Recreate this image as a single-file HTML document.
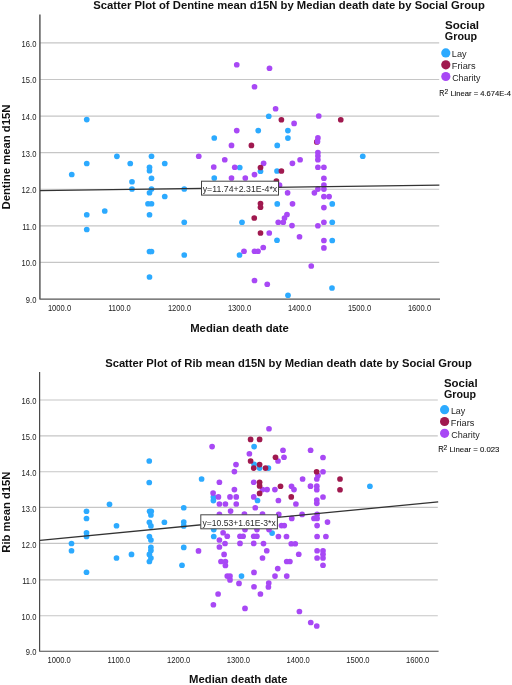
<!DOCTYPE html>
<html><head><meta charset="utf-8"><style>
html,body{margin:0;padding:0;background:#fff;}
svg{display:block;}
text{font-family:"Liberation Sans", Arial, sans-serif;}
.tk{font-size:8.8px;fill:#222;}
.ti{font-weight:bold;fill:#111;}
.lg{fill:#262626;}
.eq{fill:#2a2a2a;}
.r2{fill:#111;stroke:#111;stroke-width:0.1px;}
</style></head><body>
<svg width="512" height="685" viewBox="0 0 512 685">
<rect width="512" height="685" fill="#fff"/>
<line x1="39.9" y1="262.43" x2="439.2" y2="262.43" stroke="#c6c6c6" stroke-width="1.2"/>
<line x1="39.9" y1="225.85" x2="439.2" y2="225.85" stroke="#c6c6c6" stroke-width="1.2"/>
<line x1="39.9" y1="189.26" x2="439.2" y2="189.26" stroke="#c6c6c6" stroke-width="1.2"/>
<line x1="39.9" y1="152.67" x2="439.2" y2="152.67" stroke="#c6c6c6" stroke-width="1.2"/>
<line x1="39.9" y1="116.08" x2="439.2" y2="116.08" stroke="#c6c6c6" stroke-width="1.2"/>
<line x1="39.9" y1="79.50" x2="439.2" y2="79.50" stroke="#c6c6c6" stroke-width="1.2"/>
<line x1="39.9" y1="42.91" x2="439.2" y2="42.91" stroke="#c6c6c6" stroke-width="1.2"/>
<text transform="translate(36.4,302.92) scale(0.865,1)" text-anchor="end" class="tk">9.0</text>
<text transform="translate(36.4,266.33) scale(0.865,1)" text-anchor="end" class="tk">10.0</text>
<text transform="translate(36.4,229.75) scale(0.865,1)" text-anchor="end" class="tk">11.0</text>
<text transform="translate(36.4,193.16) scale(0.865,1)" text-anchor="end" class="tk">12.0</text>
<text transform="translate(36.4,156.57) scale(0.865,1)" text-anchor="end" class="tk">13.0</text>
<text transform="translate(36.4,119.98) scale(0.865,1)" text-anchor="end" class="tk">14.0</text>
<text transform="translate(36.4,83.40) scale(0.865,1)" text-anchor="end" class="tk">15.0</text>
<text transform="translate(36.4,46.81) scale(0.865,1)" text-anchor="end" class="tk">16.0</text>
<text transform="translate(59.50,311) scale(0.865,1)" text-anchor="middle" class="tk">1000.0</text>
<text transform="translate(119.50,311) scale(0.865,1)" text-anchor="middle" class="tk">1100.0</text>
<text transform="translate(179.50,311) scale(0.865,1)" text-anchor="middle" class="tk">1200.0</text>
<text transform="translate(239.50,311) scale(0.865,1)" text-anchor="middle" class="tk">1300.0</text>
<text transform="translate(299.50,311) scale(0.865,1)" text-anchor="middle" class="tk">1400.0</text>
<text transform="translate(359.50,311) scale(0.865,1)" text-anchor="middle" class="tk">1500.0</text>
<text transform="translate(419.50,311) scale(0.865,1)" text-anchor="middle" class="tk">1600.0</text>
<circle cx="316.8" cy="141.9" r="2.85" fill="#a0194f"/>
<circle cx="86.75" cy="119.6" r="2.85" fill="#2caaff"/>
<circle cx="116.9" cy="156.3" r="2.85" fill="#2caaff"/>
<circle cx="151.5" cy="156.25" r="2.85" fill="#2caaff"/>
<circle cx="86.75" cy="163.5" r="2.85" fill="#2caaff"/>
<circle cx="130.25" cy="163.5" r="2.85" fill="#2caaff"/>
<circle cx="164.75" cy="163.5" r="2.85" fill="#2caaff"/>
<circle cx="149.5" cy="167.25" r="2.85" fill="#2caaff"/>
<circle cx="149.5" cy="170.75" r="2.85" fill="#2caaff"/>
<circle cx="71.75" cy="174.5" r="2.85" fill="#2caaff"/>
<circle cx="151.5" cy="178.25" r="2.85" fill="#2caaff"/>
<circle cx="132" cy="181.75" r="2.85" fill="#2caaff"/>
<circle cx="132" cy="189" r="2.85" fill="#2caaff"/>
<circle cx="151.5" cy="189" r="2.85" fill="#2caaff"/>
<circle cx="149.5" cy="192.75" r="2.85" fill="#2caaff"/>
<circle cx="164.75" cy="196.5" r="2.85" fill="#2caaff"/>
<circle cx="148" cy="203.75" r="2.85" fill="#2caaff"/>
<circle cx="151.5" cy="203.75" r="2.85" fill="#2caaff"/>
<circle cx="104.75" cy="211" r="2.85" fill="#2caaff"/>
<circle cx="86.75" cy="214.75" r="2.85" fill="#2caaff"/>
<circle cx="149.5" cy="214.75" r="2.85" fill="#2caaff"/>
<circle cx="86.75" cy="229.5" r="2.85" fill="#2caaff"/>
<circle cx="149.5" cy="251.5" r="2.85" fill="#2caaff"/>
<circle cx="151.5" cy="251.5" r="2.85" fill="#2caaff"/>
<circle cx="149.5" cy="277" r="2.85" fill="#2caaff"/>
<circle cx="268.75" cy="116.25" r="2.85" fill="#2caaff"/>
<circle cx="258.25" cy="130.6" r="2.85" fill="#2caaff"/>
<circle cx="287.9" cy="130.6" r="2.85" fill="#2caaff"/>
<circle cx="214.25" cy="138" r="2.85" fill="#2caaff"/>
<circle cx="287.9" cy="138.1" r="2.85" fill="#2caaff"/>
<circle cx="277.25" cy="145.4" r="2.85" fill="#2caaff"/>
<circle cx="239.75" cy="167.5" r="2.85" fill="#2caaff"/>
<circle cx="260.5" cy="171.25" r="2.85" fill="#2caaff"/>
<circle cx="277" cy="171" r="2.85" fill="#2caaff"/>
<circle cx="214.25" cy="178" r="2.85" fill="#2caaff"/>
<circle cx="184.25" cy="189" r="2.85" fill="#2caaff"/>
<circle cx="277.25" cy="203.9" r="2.85" fill="#2caaff"/>
<circle cx="184.25" cy="222.25" r="2.85" fill="#2caaff"/>
<circle cx="242" cy="222.25" r="2.85" fill="#2caaff"/>
<circle cx="277" cy="240.25" r="2.85" fill="#2caaff"/>
<circle cx="184.25" cy="255" r="2.85" fill="#2caaff"/>
<circle cx="239.5" cy="255" r="2.85" fill="#2caaff"/>
<circle cx="288" cy="295.25" r="2.85" fill="#2caaff"/>
<circle cx="362.75" cy="156.25" r="2.85" fill="#2caaff"/>
<circle cx="332.25" cy="203.9" r="2.85" fill="#2caaff"/>
<circle cx="332.25" cy="222.25" r="2.85" fill="#2caaff"/>
<circle cx="332.25" cy="240.5" r="2.85" fill="#2caaff"/>
<circle cx="332" cy="288" r="2.85" fill="#2caaff"/>
<circle cx="242.8" cy="192.4" r="2.85" fill="#a848f5"/>
<circle cx="236.75" cy="64.75" r="2.85" fill="#a848f5"/>
<circle cx="269.5" cy="68.25" r="2.85" fill="#a848f5"/>
<circle cx="254.5" cy="86.75" r="2.85" fill="#a848f5"/>
<circle cx="275.6" cy="108.75" r="2.85" fill="#a848f5"/>
<circle cx="294.1" cy="123.4" r="2.85" fill="#a848f5"/>
<circle cx="318.75" cy="116" r="2.85" fill="#a848f5"/>
<circle cx="236.75" cy="130.6" r="2.85" fill="#a848f5"/>
<circle cx="231.5" cy="145.4" r="2.85" fill="#a848f5"/>
<circle cx="317.9" cy="137.9" r="2.85" fill="#a848f5"/>
<circle cx="317.5" cy="141.6" r="2.85" fill="#a848f5"/>
<circle cx="198.75" cy="156.25" r="2.85" fill="#a848f5"/>
<circle cx="224.75" cy="159.75" r="2.85" fill="#a848f5"/>
<circle cx="263.6" cy="163.3" r="2.85" fill="#a848f5"/>
<circle cx="292.4" cy="163.3" r="2.85" fill="#a848f5"/>
<circle cx="300.1" cy="159.75" r="2.85" fill="#a848f5"/>
<circle cx="317.9" cy="152.5" r="2.85" fill="#a848f5"/>
<circle cx="317.9" cy="156" r="2.85" fill="#a848f5"/>
<circle cx="317.9" cy="159.75" r="2.85" fill="#a848f5"/>
<circle cx="213.75" cy="167" r="2.85" fill="#a848f5"/>
<circle cx="234.75" cy="167.25" r="2.85" fill="#a848f5"/>
<circle cx="317.9" cy="167.25" r="2.85" fill="#a848f5"/>
<circle cx="323.9" cy="167.25" r="2.85" fill="#a848f5"/>
<circle cx="254.5" cy="174.6" r="2.85" fill="#a848f5"/>
<circle cx="231.5" cy="178" r="2.85" fill="#a848f5"/>
<circle cx="245.3" cy="178" r="2.85" fill="#a848f5"/>
<circle cx="323.9" cy="178.25" r="2.85" fill="#a848f5"/>
<circle cx="279.5" cy="185.2" r="2.85" fill="#a848f5"/>
<circle cx="323.9" cy="185.1" r="2.85" fill="#a848f5"/>
<circle cx="317.9" cy="189.1" r="2.85" fill="#a848f5"/>
<circle cx="323.9" cy="189.1" r="2.85" fill="#a848f5"/>
<circle cx="287.6" cy="192.8" r="2.85" fill="#a848f5"/>
<circle cx="314.4" cy="192.8" r="2.85" fill="#a848f5"/>
<circle cx="323.9" cy="196.6" r="2.85" fill="#a848f5"/>
<circle cx="329.1" cy="196.6" r="2.85" fill="#a848f5"/>
<circle cx="292.5" cy="203.8" r="2.85" fill="#a848f5"/>
<circle cx="323.9" cy="207.6" r="2.85" fill="#a848f5"/>
<circle cx="287" cy="214.5" r="2.85" fill="#a848f5"/>
<circle cx="284.5" cy="218" r="2.85" fill="#a848f5"/>
<circle cx="278.25" cy="222.25" r="2.85" fill="#a848f5"/>
<circle cx="283.25" cy="222.25" r="2.85" fill="#a848f5"/>
<circle cx="323.9" cy="222.25" r="2.85" fill="#a848f5"/>
<circle cx="292" cy="225.6" r="2.85" fill="#a848f5"/>
<circle cx="317.9" cy="225.75" r="2.85" fill="#a848f5"/>
<circle cx="269.25" cy="233" r="2.85" fill="#a848f5"/>
<circle cx="299.5" cy="236.75" r="2.85" fill="#a848f5"/>
<circle cx="323.9" cy="240.5" r="2.85" fill="#a848f5"/>
<circle cx="263.25" cy="247.5" r="2.85" fill="#a848f5"/>
<circle cx="323.9" cy="247.9" r="2.85" fill="#a848f5"/>
<circle cx="244" cy="251.25" r="2.85" fill="#a848f5"/>
<circle cx="254.5" cy="251.25" r="2.85" fill="#a848f5"/>
<circle cx="258" cy="251.25" r="2.85" fill="#a848f5"/>
<circle cx="311.25" cy="266" r="2.85" fill="#a848f5"/>
<circle cx="254.5" cy="280.5" r="2.85" fill="#a848f5"/>
<circle cx="267.25" cy="284.25" r="2.85" fill="#a848f5"/>
<circle cx="281.4" cy="119.75" r="2.85" fill="#a0194f"/>
<circle cx="340.75" cy="119.75" r="2.85" fill="#a0194f"/>
<circle cx="251.4" cy="145.4" r="2.85" fill="#a0194f"/>
<circle cx="260.5" cy="167.5" r="2.85" fill="#a0194f"/>
<circle cx="281.4" cy="171" r="2.85" fill="#a0194f"/>
<circle cx="276.4" cy="181" r="2.85" fill="#a0194f"/>
<circle cx="260.5" cy="203.5" r="2.85" fill="#a0194f"/>
<circle cx="260.5" cy="207.25" r="2.85" fill="#a0194f"/>
<circle cx="254.25" cy="218" r="2.85" fill="#a0194f"/>
<circle cx="260.5" cy="233" r="2.85" fill="#a0194f"/>
<path d="M39.9 14.5V299.1H440" fill="none" stroke="#555" stroke-width="1.45" stroke-linejoin="round"/>
<line x1="40" y1="190.6" x2="439.4" y2="185.1" stroke="#333" stroke-width="1.3"/>
<rect x="201.5" y="181.2" width="77" height="13.9" fill="#fff" stroke="#444" stroke-width="1"/>
<text x="202.70" y="191.70" textLength="74.57" lengthAdjust="spacingAndGlyphs" class="eq" font-size="9.95">y=11.74+2.31E-4*x</text>
<text x="93.16" y="9.20" textLength="391.69" lengthAdjust="spacingAndGlyphs" class="ti" font-size="11.6">Scatter Plot of Dentine mean d15N by Median death date by Social Group</text>
<text x="190.16" y="331.80" textLength="98.76" lengthAdjust="spacingAndGlyphs" class="ti" font-size="11.6">Median death date</text>
<g transform="rotate(-90)"><text x="-209.54" y="9.70" textLength="105.08" lengthAdjust="spacingAndGlyphs" class="ti" font-size="11.6">Dentine mean d15N</text></g>
<text x="444.95" y="28.60" textLength="34.11" lengthAdjust="spacingAndGlyphs" class="ti" font-size="11.6">Social</text>
<text x="444.87" y="40.00" textLength="32.26" lengthAdjust="spacingAndGlyphs" class="ti" font-size="11.6">Group</text>
<circle cx="445.8" cy="52.9" r="4.6" fill="#2caaff"/>
<text x="451.87" y="57.20" textLength="14.75" lengthAdjust="spacingAndGlyphs" class="lg" font-size="9.6">Lay</text>
<circle cx="445.8" cy="64.8" r="4.6" fill="#a0194f"/>
<text x="451.86" y="69.10" textLength="23.67" lengthAdjust="spacingAndGlyphs" class="lg" font-size="9.6">Friars</text>
<circle cx="445.8" cy="76.5" r="4.6" fill="#a848f5"/>
<text x="452.15" y="80.80" textLength="28.22" lengthAdjust="spacingAndGlyphs" class="lg" font-size="9.6">Charity</text>
<text x="439.18" y="95.85" textLength="5.12" lengthAdjust="spacingAndGlyphs" class="r2" font-size="8.5">R</text>
<text x="444.57" y="93.50" textLength="3.67" lengthAdjust="spacingAndGlyphs" class="r2" font-size="6.6">2</text>
<text x="450.39" y="95.85" textLength="60.72" lengthAdjust="spacingAndGlyphs" class="r2" font-size="8.0">Linear = 4.674E-4</text>
<line x1="39.6" y1="615.75" x2="437.8" y2="615.75" stroke="#c6c6c6" stroke-width="1.2"/>
<line x1="39.6" y1="579.90" x2="437.8" y2="579.90" stroke="#c6c6c6" stroke-width="1.2"/>
<line x1="39.6" y1="543.30" x2="437.8" y2="543.30" stroke="#c6c6c6" stroke-width="1.2"/>
<line x1="39.6" y1="507.45" x2="437.8" y2="507.45" stroke="#c6c6c6" stroke-width="1.2"/>
<line x1="39.6" y1="471.75" x2="437.8" y2="471.75" stroke="#c6c6c6" stroke-width="1.2"/>
<line x1="39.6" y1="435.80" x2="437.8" y2="435.80" stroke="#c6c6c6" stroke-width="1.2"/>
<line x1="39.6" y1="400.00" x2="437.8" y2="400.00" stroke="#c6c6c6" stroke-width="1.2"/>
<text transform="translate(36.4,655.45) scale(0.865,1)" text-anchor="end" class="tk">9.0</text>
<text transform="translate(36.4,619.95) scale(0.865,1)" text-anchor="end" class="tk">10.0</text>
<text transform="translate(36.4,584.10) scale(0.865,1)" text-anchor="end" class="tk">11.0</text>
<text transform="translate(36.4,547.50) scale(0.865,1)" text-anchor="end" class="tk">12.0</text>
<text transform="translate(36.4,511.65) scale(0.865,1)" text-anchor="end" class="tk">13.0</text>
<text transform="translate(36.4,475.95) scale(0.865,1)" text-anchor="end" class="tk">14.0</text>
<text transform="translate(36.4,440.00) scale(0.865,1)" text-anchor="end" class="tk">15.0</text>
<text transform="translate(36.4,404.20) scale(0.865,1)" text-anchor="end" class="tk">16.0</text>
<text transform="translate(59.10,662.9) scale(0.865,1)" text-anchor="middle" class="tk">1000.0</text>
<text transform="translate(118.85,662.9) scale(0.865,1)" text-anchor="middle" class="tk">1100.0</text>
<text transform="translate(178.60,662.9) scale(0.865,1)" text-anchor="middle" class="tk">1200.0</text>
<text transform="translate(238.35,662.9) scale(0.865,1)" text-anchor="middle" class="tk">1300.0</text>
<text transform="translate(298.10,662.9) scale(0.865,1)" text-anchor="middle" class="tk">1400.0</text>
<text transform="translate(357.85,662.9) scale(0.865,1)" text-anchor="middle" class="tk">1500.0</text>
<text transform="translate(417.60,662.9) scale(0.865,1)" text-anchor="middle" class="tk">1600.0</text>
<circle cx="149.25" cy="461" r="2.85" fill="#2caaff"/>
<circle cx="149.25" cy="482.5" r="2.85" fill="#2caaff"/>
<circle cx="109.5" cy="504.25" r="2.85" fill="#2caaff"/>
<circle cx="86.5" cy="511.25" r="2.85" fill="#2caaff"/>
<circle cx="149.6" cy="511.25" r="2.85" fill="#2caaff"/>
<circle cx="151.25" cy="511.25" r="2.85" fill="#2caaff"/>
<circle cx="150.9" cy="515" r="2.85" fill="#2caaff"/>
<circle cx="86.5" cy="518.5" r="2.85" fill="#2caaff"/>
<circle cx="149.4" cy="522.25" r="2.85" fill="#2caaff"/>
<circle cx="164.4" cy="522.25" r="2.85" fill="#2caaff"/>
<circle cx="116.5" cy="525.75" r="2.85" fill="#2caaff"/>
<circle cx="150.9" cy="525.9" r="2.85" fill="#2caaff"/>
<circle cx="86.5" cy="532.75" r="2.85" fill="#2caaff"/>
<circle cx="86.5" cy="536.5" r="2.85" fill="#2caaff"/>
<circle cx="149.4" cy="536.5" r="2.85" fill="#2caaff"/>
<circle cx="150.9" cy="540" r="2.85" fill="#2caaff"/>
<circle cx="71.5" cy="543.5" r="2.85" fill="#2caaff"/>
<circle cx="71.5" cy="550.75" r="2.85" fill="#2caaff"/>
<circle cx="150.9" cy="547.25" r="2.85" fill="#2caaff"/>
<circle cx="150.9" cy="550.6" r="2.85" fill="#2caaff"/>
<circle cx="149.4" cy="554.4" r="2.85" fill="#2caaff"/>
<circle cx="131.5" cy="554.4" r="2.85" fill="#2caaff"/>
<circle cx="116.5" cy="558" r="2.85" fill="#2caaff"/>
<circle cx="150.9" cy="558.1" r="2.85" fill="#2caaff"/>
<circle cx="149.4" cy="561.5" r="2.85" fill="#2caaff"/>
<circle cx="86.5" cy="572.25" r="2.85" fill="#2caaff"/>
<circle cx="183.75" cy="507.75" r="2.85" fill="#2caaff"/>
<circle cx="183.75" cy="522.1" r="2.85" fill="#2caaff"/>
<circle cx="183.75" cy="525.9" r="2.85" fill="#2caaff"/>
<circle cx="183.75" cy="547.4" r="2.85" fill="#2caaff"/>
<circle cx="182" cy="565.25" r="2.85" fill="#2caaff"/>
<circle cx="201.6" cy="479" r="2.85" fill="#2caaff"/>
<circle cx="213.4" cy="497.1" r="2.85" fill="#2caaff"/>
<circle cx="213.4" cy="500.6" r="2.85" fill="#2caaff"/>
<circle cx="213.75" cy="529.6" r="2.85" fill="#2caaff"/>
<circle cx="213.75" cy="536.5" r="2.85" fill="#2caaff"/>
<circle cx="254.1" cy="446.6" r="2.85" fill="#2caaff"/>
<circle cx="254.1" cy="464.4" r="2.85" fill="#2caaff"/>
<circle cx="259.6" cy="468.1" r="2.85" fill="#2caaff"/>
<circle cx="268.4" cy="468.1" r="2.85" fill="#2caaff"/>
<circle cx="257.5" cy="500.5" r="2.85" fill="#2caaff"/>
<circle cx="241.5" cy="576.1" r="2.85" fill="#2caaff"/>
<circle cx="272.1" cy="533.1" r="2.85" fill="#2caaff"/>
<circle cx="369.9" cy="486.25" r="2.85" fill="#2caaff"/>
<circle cx="269" cy="428.75" r="2.85" fill="#a848f5"/>
<circle cx="212.1" cy="446.6" r="2.85" fill="#a848f5"/>
<circle cx="249.4" cy="453.75" r="2.85" fill="#a848f5"/>
<circle cx="236" cy="464.6" r="2.85" fill="#a848f5"/>
<circle cx="234.4" cy="471.6" r="2.85" fill="#a848f5"/>
<circle cx="219.4" cy="482.25" r="2.85" fill="#a848f5"/>
<circle cx="253.75" cy="482.25" r="2.85" fill="#a848f5"/>
<circle cx="283" cy="450.25" r="2.85" fill="#a848f5"/>
<circle cx="310.6" cy="450.25" r="2.85" fill="#a848f5"/>
<circle cx="284" cy="457.25" r="2.85" fill="#a848f5"/>
<circle cx="323" cy="457.5" r="2.85" fill="#a848f5"/>
<circle cx="278" cy="461" r="2.85" fill="#a848f5"/>
<circle cx="323" cy="471.75" r="2.85" fill="#a848f5"/>
<circle cx="318" cy="475.5" r="2.85" fill="#a848f5"/>
<circle cx="316.8" cy="479" r="2.85" fill="#a848f5"/>
<circle cx="302.6" cy="479" r="2.85" fill="#a848f5"/>
<circle cx="310.5" cy="486.2" r="2.85" fill="#a848f5"/>
<circle cx="316.8" cy="486.2" r="2.85" fill="#a848f5"/>
<circle cx="316.8" cy="489.75" r="2.85" fill="#a848f5"/>
<circle cx="323" cy="497" r="2.85" fill="#a848f5"/>
<circle cx="316.8" cy="500" r="2.85" fill="#a848f5"/>
<circle cx="316.8" cy="503.3" r="2.85" fill="#a848f5"/>
<circle cx="291.5" cy="486.25" r="2.85" fill="#a848f5"/>
<circle cx="262.5" cy="489.6" r="2.85" fill="#a848f5"/>
<circle cx="267.1" cy="489.6" r="2.85" fill="#a848f5"/>
<circle cx="274.9" cy="489.6" r="2.85" fill="#a848f5"/>
<circle cx="294" cy="489.6" r="2.85" fill="#a848f5"/>
<circle cx="234.4" cy="489.6" r="2.85" fill="#a848f5"/>
<circle cx="213.1" cy="493.1" r="2.85" fill="#a848f5"/>
<circle cx="218.4" cy="496.9" r="2.85" fill="#a848f5"/>
<circle cx="230" cy="496.9" r="2.85" fill="#a848f5"/>
<circle cx="236.25" cy="496.9" r="2.85" fill="#a848f5"/>
<circle cx="253.75" cy="496.9" r="2.85" fill="#a848f5"/>
<circle cx="278.4" cy="500.5" r="2.85" fill="#a848f5"/>
<circle cx="219.4" cy="504" r="2.85" fill="#a848f5"/>
<circle cx="225.4" cy="504" r="2.85" fill="#a848f5"/>
<circle cx="236.25" cy="504" r="2.85" fill="#a848f5"/>
<circle cx="295.9" cy="504" r="2.85" fill="#a848f5"/>
<circle cx="255.25" cy="507.75" r="2.85" fill="#a848f5"/>
<circle cx="230.6" cy="511.1" r="2.85" fill="#a848f5"/>
<circle cx="219.4" cy="514.4" r="2.85" fill="#a848f5"/>
<circle cx="244.4" cy="514" r="2.85" fill="#a848f5"/>
<circle cx="262.5" cy="514" r="2.85" fill="#a848f5"/>
<circle cx="278.75" cy="514.4" r="2.85" fill="#a848f5"/>
<circle cx="302.1" cy="514.4" r="2.85" fill="#a848f5"/>
<circle cx="317.1" cy="514.4" r="2.85" fill="#a848f5"/>
<circle cx="317.1" cy="518.4" r="2.85" fill="#a848f5"/>
<circle cx="291.75" cy="518.4" r="2.85" fill="#a848f5"/>
<circle cx="314" cy="518.4" r="2.85" fill="#a848f5"/>
<circle cx="327.5" cy="522.1" r="2.85" fill="#a848f5"/>
<circle cx="281.5" cy="525.6" r="2.85" fill="#a848f5"/>
<circle cx="284.25" cy="525.6" r="2.85" fill="#a848f5"/>
<circle cx="317.1" cy="525.6" r="2.85" fill="#a848f5"/>
<circle cx="269" cy="529.6" r="2.85" fill="#a848f5"/>
<circle cx="245" cy="529.6" r="2.85" fill="#a848f5"/>
<circle cx="256.9" cy="529.6" r="2.85" fill="#a848f5"/>
<circle cx="223.1" cy="532.75" r="2.85" fill="#a848f5"/>
<circle cx="227.25" cy="536.25" r="2.85" fill="#a848f5"/>
<circle cx="240" cy="536.25" r="2.85" fill="#a848f5"/>
<circle cx="243.1" cy="536.25" r="2.85" fill="#a848f5"/>
<circle cx="253.75" cy="536.25" r="2.85" fill="#a848f5"/>
<circle cx="256.9" cy="536.25" r="2.85" fill="#a848f5"/>
<circle cx="278.4" cy="536.5" r="2.85" fill="#a848f5"/>
<circle cx="286.5" cy="536.5" r="2.85" fill="#a848f5"/>
<circle cx="317.1" cy="536.5" r="2.85" fill="#a848f5"/>
<circle cx="325.9" cy="536.5" r="2.85" fill="#a848f5"/>
<circle cx="219.4" cy="540" r="2.85" fill="#a848f5"/>
<circle cx="225" cy="543.5" r="2.85" fill="#a848f5"/>
<circle cx="240" cy="543.4" r="2.85" fill="#a848f5"/>
<circle cx="253.75" cy="543.4" r="2.85" fill="#a848f5"/>
<circle cx="263.5" cy="543.6" r="2.85" fill="#a848f5"/>
<circle cx="291.25" cy="543.75" r="2.85" fill="#a848f5"/>
<circle cx="295.25" cy="543.75" r="2.85" fill="#a848f5"/>
<circle cx="219.4" cy="547" r="2.85" fill="#a848f5"/>
<circle cx="198.5" cy="550.9" r="2.85" fill="#a848f5"/>
<circle cx="224.1" cy="554.4" r="2.85" fill="#a848f5"/>
<circle cx="221" cy="561.5" r="2.85" fill="#a848f5"/>
<circle cx="225.4" cy="561.5" r="2.85" fill="#a848f5"/>
<circle cx="225.4" cy="565.5" r="2.85" fill="#a848f5"/>
<circle cx="262.5" cy="558" r="2.85" fill="#a848f5"/>
<circle cx="266.75" cy="550.75" r="2.85" fill="#a848f5"/>
<circle cx="298.75" cy="554.25" r="2.85" fill="#a848f5"/>
<circle cx="317.1" cy="550.75" r="2.85" fill="#a848f5"/>
<circle cx="323" cy="550.75" r="2.85" fill="#a848f5"/>
<circle cx="323" cy="554.25" r="2.85" fill="#a848f5"/>
<circle cx="317.1" cy="558" r="2.85" fill="#a848f5"/>
<circle cx="323" cy="558" r="2.85" fill="#a848f5"/>
<circle cx="323" cy="565.25" r="2.85" fill="#a848f5"/>
<circle cx="286.75" cy="561.5" r="2.85" fill="#a848f5"/>
<circle cx="289.9" cy="561.5" r="2.85" fill="#a848f5"/>
<circle cx="277.75" cy="568.6" r="2.85" fill="#a848f5"/>
<circle cx="275" cy="576.1" r="2.85" fill="#a848f5"/>
<circle cx="286.75" cy="576.1" r="2.85" fill="#a848f5"/>
<circle cx="268.75" cy="583" r="2.85" fill="#a848f5"/>
<circle cx="268.4" cy="587" r="2.85" fill="#a848f5"/>
<circle cx="227.25" cy="576.1" r="2.85" fill="#a848f5"/>
<circle cx="230" cy="576.1" r="2.85" fill="#a848f5"/>
<circle cx="230" cy="579.9" r="2.85" fill="#a848f5"/>
<circle cx="254" cy="572.4" r="2.85" fill="#a848f5"/>
<circle cx="239" cy="583.4" r="2.85" fill="#a848f5"/>
<circle cx="254" cy="586.75" r="2.85" fill="#a848f5"/>
<circle cx="218.1" cy="594" r="2.85" fill="#a848f5"/>
<circle cx="260.4" cy="594" r="2.85" fill="#a848f5"/>
<circle cx="213.4" cy="604.75" r="2.85" fill="#a848f5"/>
<circle cx="245" cy="608.4" r="2.85" fill="#a848f5"/>
<circle cx="299.4" cy="611.5" r="2.85" fill="#a848f5"/>
<circle cx="310.75" cy="622.5" r="2.85" fill="#a848f5"/>
<circle cx="316.75" cy="626" r="2.85" fill="#a848f5"/>
<circle cx="250.6" cy="439.4" r="2.85" fill="#a0194f"/>
<circle cx="259.6" cy="439.4" r="2.85" fill="#a0194f"/>
<circle cx="250.6" cy="461" r="2.85" fill="#a0194f"/>
<circle cx="259.6" cy="464.6" r="2.85" fill="#a0194f"/>
<circle cx="253.75" cy="468.1" r="2.85" fill="#a0194f"/>
<circle cx="265.5" cy="468.1" r="2.85" fill="#a0194f"/>
<circle cx="259.6" cy="482.25" r="2.85" fill="#a0194f"/>
<circle cx="259.6" cy="485.9" r="2.85" fill="#a0194f"/>
<circle cx="259.6" cy="493.4" r="2.85" fill="#a0194f"/>
<circle cx="275.5" cy="457.25" r="2.85" fill="#a0194f"/>
<circle cx="280.5" cy="486.25" r="2.85" fill="#a0194f"/>
<circle cx="291.25" cy="496.9" r="2.85" fill="#a0194f"/>
<circle cx="316.6" cy="471.75" r="2.85" fill="#a0194f"/>
<circle cx="340" cy="479" r="2.85" fill="#a0194f"/>
<circle cx="340" cy="489.75" r="2.85" fill="#a0194f"/>
<path d="M39.6 372V651.25H438.6" fill="none" stroke="#4a4a4a" stroke-width="1.2" stroke-linejoin="round"/>
<line x1="40" y1="540.4" x2="438.2" y2="501.9" stroke="#333" stroke-width="1.3"/>
<rect x="200.8" y="514.8" width="76.6" height="14" fill="#fff" stroke="#444" stroke-width="1"/>
<text x="202.50" y="525.50" textLength="73.20" lengthAdjust="spacingAndGlyphs" class="eq" font-size="9.95">y=10.53+1.61E-3*x</text>
<text x="105.16" y="367.20" textLength="366.67" lengthAdjust="spacingAndGlyphs" class="ti" font-size="11.6">Scatter Plot of Rib mean d15N by Median death date by Social Group</text>
<text x="189.07" y="683.10" textLength="98.56" lengthAdjust="spacingAndGlyphs" class="ti" font-size="11.6">Median death date</text>
<g transform="rotate(-90)"><text x="-552.73" y="9.90" textLength="81.11" lengthAdjust="spacingAndGlyphs" class="ti" font-size="11.6">Rib mean d15N</text></g>
<text x="444.01" y="386.60" textLength="33.64" lengthAdjust="spacingAndGlyphs" class="ti" font-size="11.6">Social</text>
<text x="443.92" y="397.60" textLength="32.10" lengthAdjust="spacingAndGlyphs" class="ti" font-size="11.6">Group</text>
<circle cx="444.6" cy="409.7" r="4.6" fill="#2caaff"/>
<text x="450.88" y="414.10" textLength="14.44" lengthAdjust="spacingAndGlyphs" class="lg" font-size="9.6">Lay</text>
<circle cx="444.6" cy="421.5" r="4.6" fill="#a0194f"/>
<text x="450.86" y="425.90" textLength="23.56" lengthAdjust="spacingAndGlyphs" class="lg" font-size="9.6">Friars</text>
<circle cx="444.6" cy="433.3" r="4.6" fill="#a848f5"/>
<text x="451.15" y="437.70" textLength="28.53" lengthAdjust="spacingAndGlyphs" class="lg" font-size="9.6">Charity</text>
<text x="438.19" y="451.85" textLength="5.46" lengthAdjust="spacingAndGlyphs" class="r2" font-size="8.5">R</text>
<text x="443.57" y="449.50" textLength="3.67" lengthAdjust="spacingAndGlyphs" class="r2" font-size="6.6">2</text>
<text x="449.48" y="451.85" textLength="49.95" lengthAdjust="spacingAndGlyphs" class="r2" font-size="8.0">Linear = 0.023</text>
</svg>
</body></html>
